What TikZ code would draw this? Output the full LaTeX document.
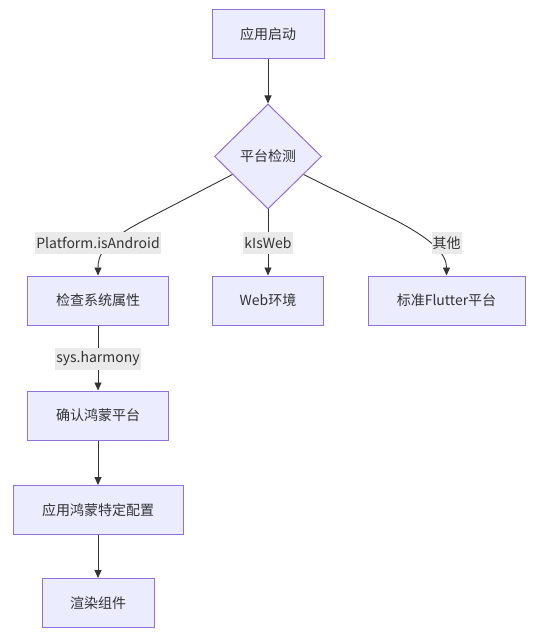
\documentclass[tikz,border=0pt]{standalone}
\usepackage{fontspec}
\setmainfont{Noto Sans CJK SC}
\usetikzlibrary{arrows.meta,shapes.geometric,calc}
\definecolor{mfill}{HTML}{ECECFF}
\definecolor{mborder}{HTML}{9370DB}
\definecolor{mline}{HTML}{333333}
\definecolor{mtext}{HTML}{333333}
\definecolor{mlab}{HTML}{EAEAEA}
\begin{document}
\begin{tikzpicture}[x=1pt,y=-1pt,
  font=\fontsize{14}{16}\selectfont,
  box/.style={draw=mborder, fill=mfill, line width=1pt, minimum height=49pt, inner sep=0pt, text=mtext},
  dia/.style={draw=mborder, fill=mfill, line width=1pt, diamond, minimum width=107pt, minimum height=105pt, inner sep=0pt, text=mtext},
  edge/.style={draw=mline, line width=0.9pt, -{Triangle[length=8pt,width=7pt]}},
  elabel/.style={fill=mlab, text=mtext, inner xsep=1pt, inner ysep=0pt, minimum height=22pt}]
\useasboundingbox (0,0) rectangle (538,636);
\node[box, minimum width=112pt] (start) at (268,34.5) {应用启动};
\node[dia] (det) at (268,156.5) {平台检测};
\node[box, minimum width=141pt] (check) at (98,300.5) {检查系统属性};
\node[box, minimum width=111pt] (web) at (268,300.5) {Web环境};
\node[box, minimum width=157pt] (flutter) at (446.5,300.5) {标准Flutter平台};
\node[box, minimum width=141pt] (confirm) at (98,415.5) {确认鸿蒙平台};
\node[box, minimum width=170pt] (config) at (98,510) {应用鸿蒙特定配置};
\node[box, minimum width=112pt] (render) at (98,603) {渲染组件};

\draw[edge] (start.south) -- (det.north);
\draw[edge] ($(det.west)!0.34!(det.south)$) -- (141,222) .. controls (103,242) and (98,256) .. (check.north);
\draw[edge] (det.south) -- (web.north);
\draw[edge] ($(det.east)!0.34!(det.south)$) -- (395,220) .. controls (435,241) and (446.5,255) .. (flutter.north);
\draw[edge] (check.south) -- (confirm.north);
\draw[edge] (confirm.south) -- (config.north);
\draw[edge] (config.south) -- (render.north);

\node[elabel] (l1) at (98,243) {Platform.isAndroid};
\node[elabel] (l2) at (268,243) {kIsWeb};
\node[elabel] (l3) at (446.5,243) {其他};
\node[elabel] (l4) at (98,359) {sys.harmony};
\end{tikzpicture}
\end{document}
